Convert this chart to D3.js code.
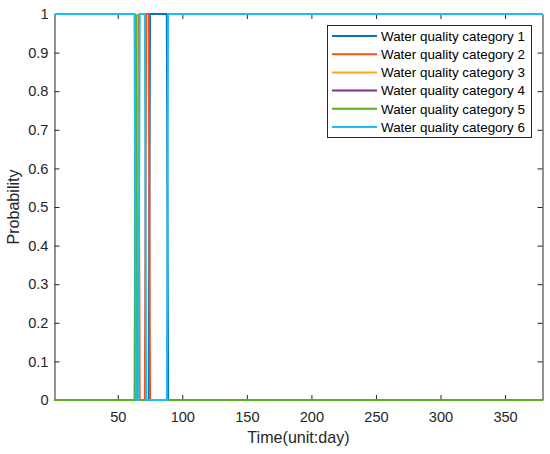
<!DOCTYPE html>
<html>
<head>
    <script src="https://cdnjs.cloudflare.com/ajax/libs/d3/7.8.5/d3.min.js"></script>
    <style>
        body { margin: 0; background: #fff; }
        svg { font-family: "Liberation Sans", Arial, sans-serif; }
        .tick text { font-size: 14.6px; fill: #262626; }
        .axis-label { font-size: 16.1px; fill: #262626; }
        .legend-label { font-size: 13.4px; fill: #000; }
    </style>
</head>
<body>
    <svg width="550" height="454"></svg>
    <script>
        // Data: days where the category state changes, value of each category at those days
        const days = [1, 63, 64, 65, 66, 67, 71, 72, 74, 75, 88, 89, 379];
        const cat1 = [0, 0, 0, 0, 0, 0, 0, 0, 0, 1, 1, 0, 0];
        const cat2 = [0, 0, 0, 0, 1, 0, 0, 1, 1, 0, 0, 0, 0];
        const cat3 = [0, 0, 0, 1, 0, 0, 0, 0, 0, 0, 0, 0, 0];
        const cat4 = [0, 0, 0, 0, 0, 0, 0, 0, 0, 0, 0, 0, 0];
        const cat5 = [0, 0, 1, 0, 0, 0, 0, 0, 0, 0, 0, 0, 0];
        const cat6 = [1, 1, 0, 0, 0, 1, 1, 0, 0, 0, 0, 1, 1];
        const seriesNames = ["Water quality category 1", "Water quality category 2",
            "Water quality category 3", "Water quality category 4",
            "Water quality category 5", "Water quality category 6"];
        const seriesValues = [cat1, cat2, cat3, cat4, cat5, cat6];
        const colors = ["#0a70c0", "#f4501c", "#f6b012", "#7e2f8e", "#5aae1e", "#1abff0"];
        const xTicks = [50, 100, 150, 200, 250, 300, 350];
        const yTicks = [0, 0.1, 0.2, 0.3, 0.4, 0.5, 0.6, 0.7, 0.8, 0.9, 1];

        const svg = d3.select("svg");
        const margin = { left: 54.5, right: 7.5, top: 14, bottom: 54 };
        const width = 550 - margin.left - margin.right;
        const height = 454 - margin.top - margin.bottom;
        const axisColor = "#262626";

        const g = svg.append("g").attr("transform", `translate(${margin.left},${margin.top})`);

        const x = d3.scaleLinear().domain([1, 379]).range([0, width]);
        const y = d3.scaleLinear().domain([0, 1]).range([height, 0]);

        // Axes (ticks inward, box on)
        const tickLen = 5;
        const xAxis = g.append("g").attr("transform", `translate(0,${height})`)
            .call(d3.axisBottom(x).tickValues(xTicks).tickSizeInner(-tickLen).tickSizeOuter(0).tickPadding(12));
        const xTop = g.append("g")
            .call(d3.axisTop(x).tickValues(xTicks).tickSizeInner(-tickLen).tickSizeOuter(0).tickFormat(""));
        const yAxis = g.append("g")
            .call(d3.axisLeft(y).tickValues(yTicks).tickSizeInner(-tickLen).tickSizeOuter(0).tickPadding(6)
                .tickFormat(d => d3.format("")(d)));
        const yRight = g.append("g").attr("transform", `translate(${width},0)`)
            .call(d3.axisRight(y).tickValues(yTicks).tickSizeInner(-tickLen).tickSizeOuter(0).tickFormat(""));
        [xAxis, xTop, yAxis, yRight].forEach(a => {
            a.selectAll("path").attr("stroke", axisColor).attr("stroke-width", 1);
            a.selectAll("line").attr("stroke", axisColor).attr("stroke-width", 1);
        });

        // Lines
        const line = d3.line().x(d => x(d[0])).y(d => y(d[1]));
        seriesValues.forEach((vals, i) => {
            g.append("path")
                .datum(days.map((d, j) => [d, vals[j]]))
                .attr("fill", "none")
                .attr("stroke", colors[i])
                .attr("stroke-width", 2)
                .attr("d", line);
        });

        // Axis labels
        g.append("text").attr("class", "axis-label")
            .attr("x", width / 2).attr("y", height + 43)
            .attr("text-anchor", "middle")
            .text("Time(unit:day)");
        g.append("text").attr("class", "axis-label")
            .attr("transform", `translate(${-36},${height / 2}) rotate(-90)`)
            .attr("text-anchor", "middle")
            .text("Probability");

        // Legend
        const legend = svg.append("g").attr("transform", "translate(327.5,25.5)");
        legend.append("rect")
            .attr("width", 204).attr("height", 112)
            .attr("fill", "#fff").attr("stroke", axisColor).attr("stroke-width", 1);
        seriesNames.forEach((name, i) => {
            const ly = 10.5 + i * 18.2;
            legend.append("line")
                .attr("x1", 4.5).attr("x2", 49.5).attr("y1", ly).attr("y2", ly)
                .attr("stroke", colors[i]).attr("stroke-width", 2);
            legend.append("text").attr("class", "legend-label")
                .attr("x", 53.5).attr("y", ly + 4.8)
                .text(name);
        });
    </script>
</body>
</html>
